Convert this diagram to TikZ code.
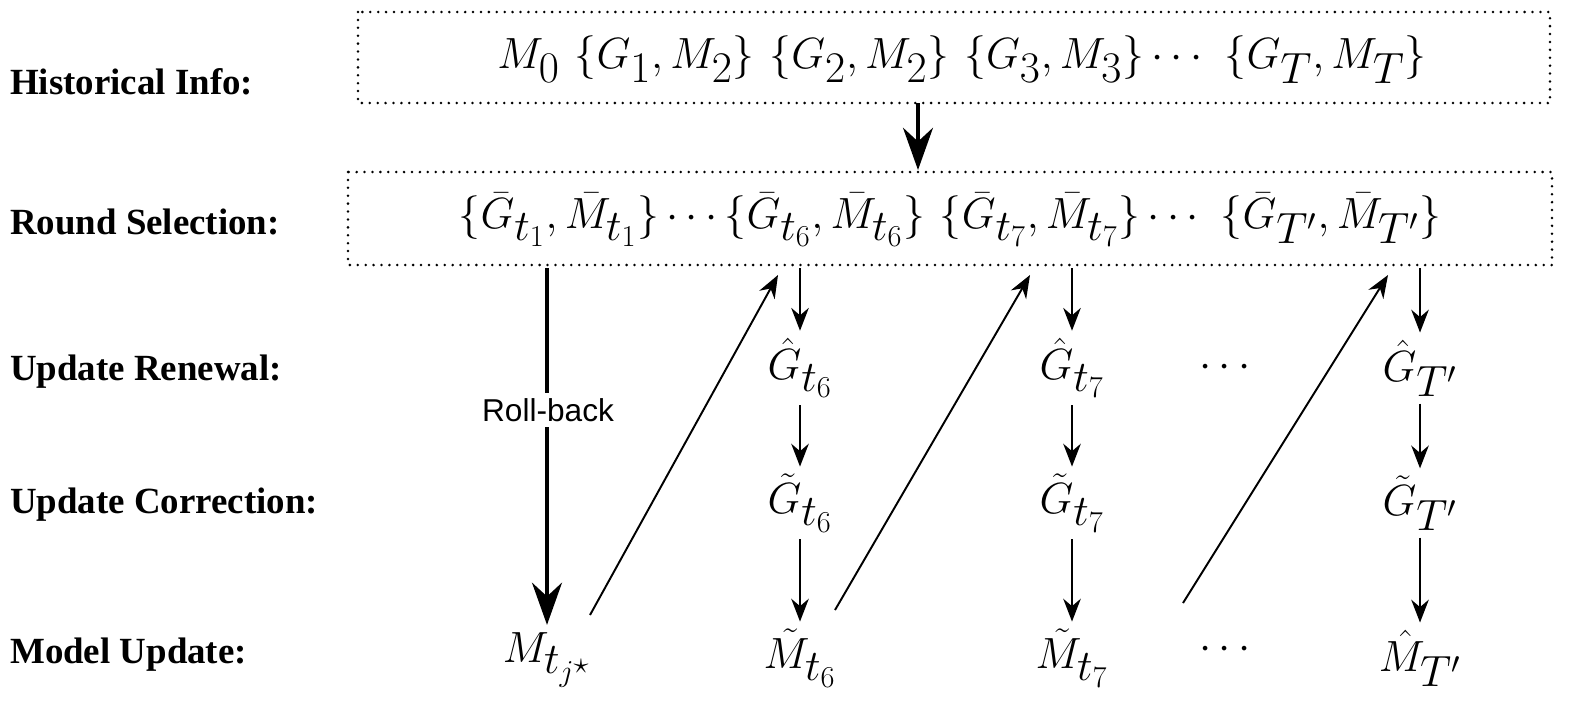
\documentclass[tikz,border=0pt]{standalone}
\usepackage{fontspec}
\setmainfont{Liberation Serif}
\newfontfamily\sansf{Liberation Sans}
\usetikzlibrary{arrows.meta}
\begin{document}
\begin{tikzpicture}[x=0.02cm,y=-0.02cm,
 lab/.style={anchor=west,font=\fontsize{21}{24}\selectfont\bfseries},
 mth/.style={font=\fontsize{34}{40}\selectfont,inner sep=0pt},
 nd/.style={font=\fontsize{34}{40}\selectfont,inner sep=4pt},
 thin/.style={-{Stealth[length=13pt,width=10pt]},line width=1.1pt},
 thick/.style={-{Stealth[length=24pt,width=17pt]},line width=2.4pt},
 box/.style={line width=1.6pt,line cap=round,dash pattern=on 0pt off 4.5pt}]
\useasboundingbox (0,0) rectangle (1584,718);
\node[lab] (l1) at (4,82) {Historical Info:};
\node[lab] (l2) at (4,222) {Round Selection:};
\node[lab] (l3) at (4,372) {Update Renewal:};
\node[lab] (l4) at (4,505) {Update Correction:};
\node[lab] (l5) at (4,655) {Model Update:};
\draw[box] (358,12) rectangle (1550,103);
\node[mth] (hist) at (962,60) {$M_0\ \{G_1,M_2\}\ \{G_2,M_2\}\ \{G_3,M_3\}\cdots\ \{G_T,M_T\}$};
\draw[box] (348,172) rectangle (1552,265);
\node[mth] (sel) at (950,220) {$\{\bar G_{t_1},\bar M_{t_1}\}\cdots\{\bar G_{t_6},\bar M_{t_6}\}\ \{\bar G_{t_7},\bar M_{t_7}\}\cdots\ \{\bar G_{T'},\bar M_{T'}\}$};
\coordinate (hb) at (918,103);
\coordinate (st) at (918,170);
\draw[thick] (hb) -- (st);
\node[nd] (mj) at (547,660) {$M_{t_{j^\star}}$};
\node[nd] (gh6) at (800,368) {$\hat G_{t_6}$};
\node[nd] (gt6) at (800,503) {$\tilde G_{t_6}$};
\node[nd] (mt6) at (800,658) {$\tilde M_{t_6}$};
\node[nd] (gh7) at (1072,368) {$\hat G_{t_7}$};
\node[nd] (gt7) at (1072,503) {$\tilde G_{t_7}$};
\node[nd] (mt7) at (1072,658) {$\tilde M_{t_7}$};
\node[nd] (ghT) at (1420,368) {$\hat G_{T'}$};
\node[nd] (gtT) at (1420,503) {$\tilde G_{T'}$};
\node[nd] (mhT) at (1420,658) {$\hat M_{T'}$};
\node[mth] (d1) at (1225,368) {$\cdots$};
\node[mth] (d2) at (1225,650) {$\cdots$};
\coordinate (s1) at (547,268);
\coordinate (a6) at (800,268); \coordinate (a7) at (1072,268); \coordinate (aT) at (1420,268);
\coordinate (e6) at (778,275); \coordinate (e7) at (1030,275); \coordinate (eT) at (1388,275);
\coordinate (b1) at (590,615); \coordinate (b2) at (835,610); \coordinate (b3) at (1183,603);
\draw[thick] (s1) -- (mj);
\node[font=\sansf\fontsize{18}{21}\selectfont,fill=white,inner sep=3pt] (rb) at (548,410) {Roll-back};
\draw[thin] (a6) -- (gh6); \draw[thin] (gh6) -- (gt6); \draw[thin] (gt6) -- (mt6);
\draw[thin] (a7) -- (gh7); \draw[thin] (gh7) -- (gt7); \draw[thin] (gt7) -- (mt7);
\draw[thin] (aT) -- (ghT); \draw[thin] (ghT) -- (gtT); \draw[thin] (gtT) -- (mhT);
\draw[thin] (b1) -- (e6); \draw[thin] (b2) -- (e7); \draw[thin] (b3) -- (eT);
\end{tikzpicture}
\end{document}
